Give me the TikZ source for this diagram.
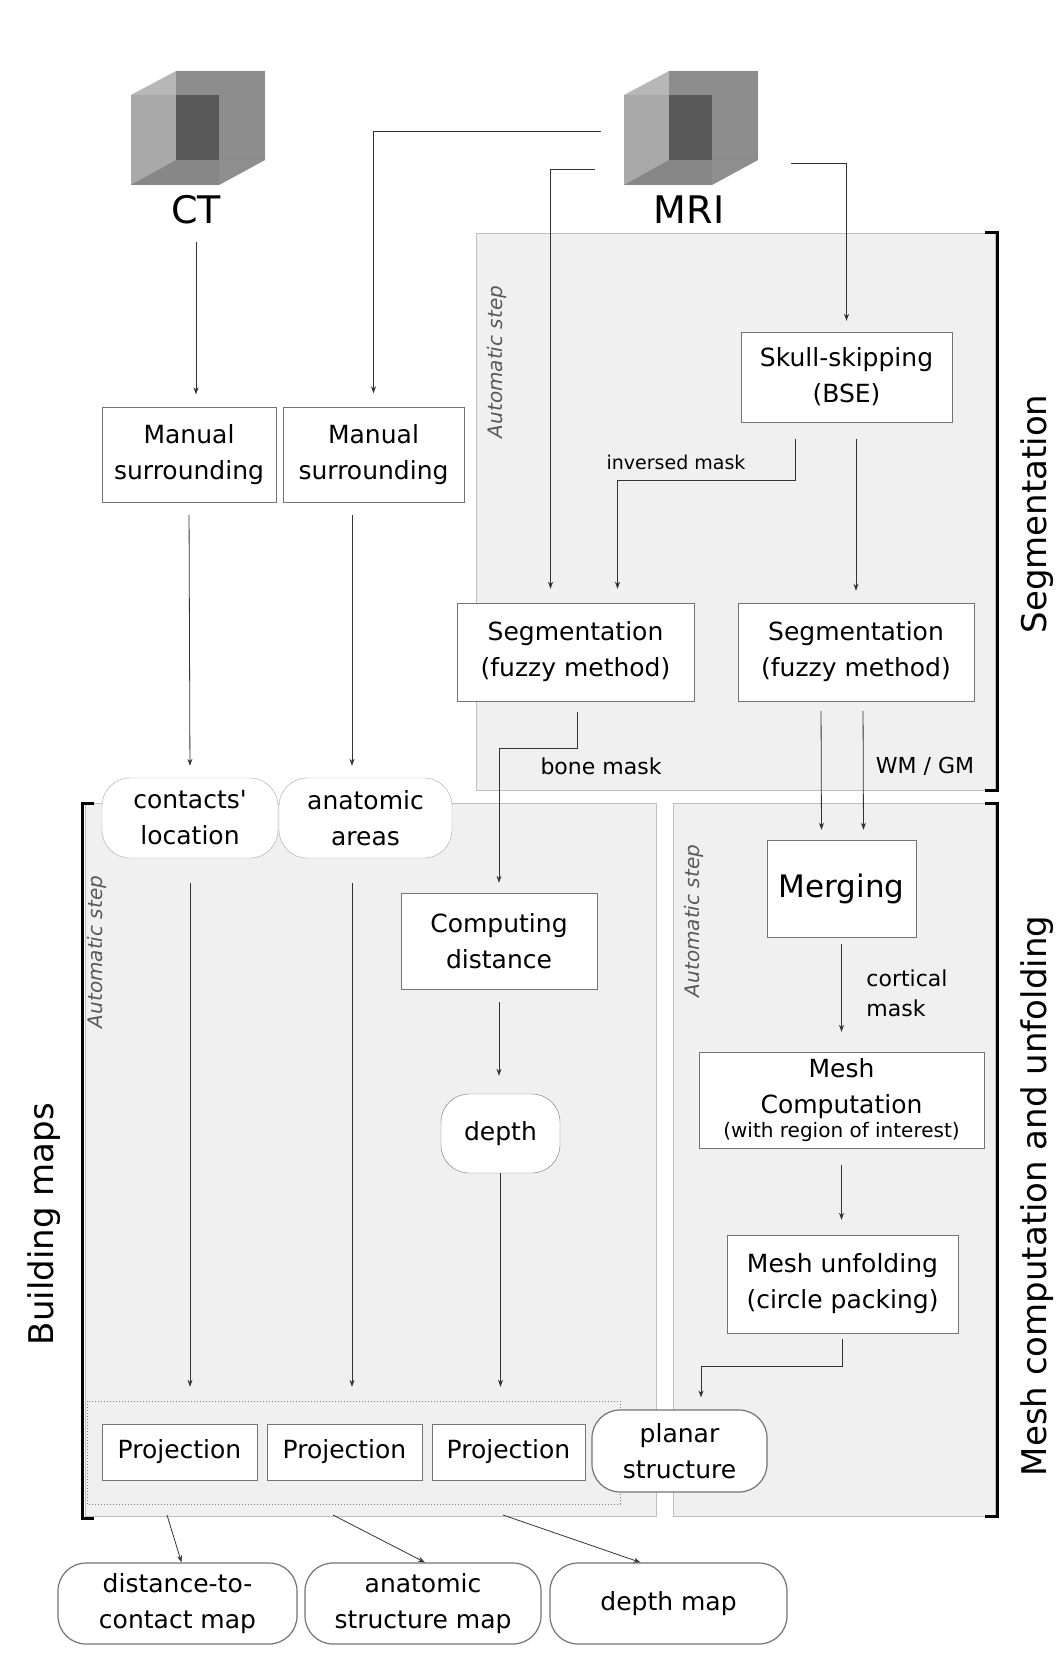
\documentclass[tikz,border=0pt]{standalone}
\usepackage{fontspec}
\setmainfont{DejaVu Sans}[Ligatures=TeXOff]
\usetikzlibrary{arrows.meta,calc}
\begin{document}
\begin{tikzpicture}[x=1pt,y=-1pt,
  box/.style={draw=black!55,fill=white,align=center,inner sep=0pt,font=\fontsize{25}{36}\selectfont},
  rbox/.style={box,rounded corners=28pt},
  rgbox/.style={rbox,draw=black!35},
  arr/.style={-{Stealth[length=7pt,width=5pt]},black!80,line width=0.8pt},
  region/.style={fill=black!6,draw=black!25,line width=0.8pt},
  auto/.style={rotate=90,text=black!65,font=\fontsize{20}{24}\selectfont\itshape},
  lab/.style={font=\fontsize{22}{30}\selectfont,align=left,inner sep=0pt},
  side/.style={rotate=90,font=\fontsize{34}{40}\selectfont},
  brk/.style={line width=3pt}]
\useasboundingbox (0,0) rectangle (1064,1661);
% regions
\path[region] (476,233) rectangle (995,790);
\path[region] (85,803) rectangle (656,1516);
\path[region] (673,803) rectangle (995,1516);
\draw[brk] (985,233) -- (997,233) -- (997,790) -- (985,790);
\draw[brk] (985,803) -- (997,803) -- (997,1516) -- (985,1516);
\draw[brk] (94,803) -- (82,803) -- (82,1518) -- (94,1518);
\node[auto] at (497,362) {Automatic step};
\node[auto] at (97,952) {Automatic step};
\node[auto] at (694,921) {Automatic step};
\node[side] at (1037,514) {Segmentation};
\node[side] at (1037,1196) {Mesh computation and unfolding};
\node[side] at (44,1224) {Building maps};
% cubes
\foreach \cx/\nm in {131/ctcube,624/mricube}{
  \begin{scope}[shift={(\cx,71)}]
    \fill[black!55] (45,0) rectangle (134,89);
    \fill[black!40,opacity=0.7] (0,24) -- (45,0) -- (134,0) -- (88,24) -- cycle;
    \fill[black!40,opacity=0.7] (88,24) -- (134,0) -- (134,89) -- (88,114) -- cycle;
    \fill[black!45,opacity=0.75] (0,24) rectangle (88,114);
    \fill[black!60,opacity=0.5] (0,114) -- (45,89) -- (134,89) -- (88,114) -- cycle;
    \fill[black!65] (45,24) rectangle (88,89);
    \coordinate (\nm) at (67,57);
  \end{scope}}
\node[font=\fontsize{38}{40}\selectfont] (ct) at (196,210) {CT};
\node[font=\fontsize{38}{40}\selectfont] (mri) at (689,210) {MRI};
% nodes
\node[box,minimum width=174pt,minimum height=95pt] (man1) at (189,455) {Manual\\surrounding};
\node[box,minimum width=181pt,minimum height=95pt] (man2) at (373.5,455) {Manual\\surrounding};
\node[box,minimum width=211pt,minimum height=90pt] (skull) at (846.5,377) {Skull-skipping\\(BSE)};
\node[box,minimum width=237pt,minimum height=98pt] (seg1) at (575.5,652) {Segmentation\\(fuzzy method)};
\node[box,minimum width=236pt,minimum height=98pt] (seg2) at (856,652) {Segmentation\\(fuzzy method)};
\node[rgbox,minimum width=176pt,minimum height=80pt] (cont) at (190,818) {contacts'\\location};
\node[rgbox,minimum width=173pt,minimum height=80pt] (areas) at (365.5,818) {anatomic\\areas};
\node[box,minimum width=196pt,minimum height=96pt] (comp) at (499,941) {Computing\\distance};
\node[rbox,minimum width=119pt,minimum height=79pt] (depth) at (500.5,1133.5) {depth};
\node[box,minimum width=149pt,minimum height=97pt,font=\fontsize{31}{36}\selectfont] (merge) at (841.5,888.5) {Merging};
\node[box,minimum width=285pt,minimum height=96pt] (meshc) at (841.5,1100) {Mesh\\Computation\\[-12pt]{\fontsize{20}{24}\selectfont (with region of interest)}};
\node[box,minimum width=231pt,minimum height=98pt] (unf) at (842.5,1284) {Mesh unfolding\\(circle packing)};
\draw[black!50,dotted,line width=1pt] (87,1401) rectangle (620,1504);
\node[box,minimum width=155pt,minimum height=56pt] (p1) at (179.5,1452) {Projection};
\node[box,minimum width=155pt,minimum height=56pt] (p2) at (344.5,1452) {Projection};
\node[box,minimum width=153pt,minimum height=56pt] (p3) at (508.5,1452) {Projection};
\node[rbox,minimum width=175pt,minimum height=82pt,line width=1.2pt] (planar) at (679.5,1451) {planar\\structure};
\node[rbox,minimum width=239pt,minimum height=81pt,line width=1.2pt] (b1) at (177.5,1603.5) {distance-to-\\contact map};
\node[rbox,minimum width=236pt,minimum height=81pt,line width=1.2pt] (b2) at (423,1603.5) {anatomic\\structure map};
\node[rbox,minimum width=237pt,minimum height=81pt,line width=1.2pt] (b3) at (668.5,1603.5) {depth map};
% connectors
\coordinate (m1) at (601,131);
\coordinate (m2) at (595,169);
\coordinate (m3) at (791,163);
\draw[arr,shorten <=14pt,shorten >=13pt] (ct.south) -- (ct.south |- man1.north);
\draw[arr,shorten >=14pt] (m1) -| (man2.north);
\draw[arr,shorten >=14pt] (m2) -| ([xshift=-25pt]seg1.north);
\draw[arr,shorten >=11pt] (m3) -| (skull.north);
\draw[arr,shorten <=17pt,shorten >=12pt] (skull.south -| seg2.north) -- (seg2.north);
\coordinate (inv) at ([xshift=55pt,yshift=-17pt]skull.south west);
\draw[arr,shorten >=14pt] (inv) -- ++(0,41) -| ([xshift=42pt]seg1.north);
\node[lab,font=\fontsize{19}{22}\selectfont] at (676,462) {inversed mask};
\coordinate (bm) at ([xshift=1.5pt,yshift=-11pt]seg1.south);
\draw[arr,shorten >=10pt] (bm) -- ++(0,36) -| (comp.north);
\node[lab] at (601,766) {bone mask};
\draw[arr,shorten <=10pt,shorten >=10pt] ([xshift=-35pt]seg2.south) -- ([xshift=-20pt]merge.north);
\draw[arr,shorten <=10pt,shorten >=10pt] ([xshift=7pt]seg2.south) -- ([xshift=22pt]merge.north);
\node[lab] at (925,766) {WM / GM};
\draw[arr,shorten <=12pt,shorten >=12pt] (man1.south) -- (cont.north);
\draw[arr,shorten <=12pt,shorten >=12pt] ([xshift=-21.5pt]man2.south) -- ([xshift=-13.5pt]areas.north);
\draw[arr,shorten <=25pt,shorten >=37pt] (cont.south) -- (p1.north -| cont.south);
\draw[arr,shorten <=25pt,shorten >=37pt] ([xshift=-13.5pt]areas.south) -- ([xshift=-13.5pt]areas.south |- p2.north);
\draw[arr,shorten <=13pt,shorten >=18pt] (comp.south) -- (comp.south |- depth.north);
\draw[arr,shorten >=37pt] (depth.south) -- (depth.south |- p3.north);
\draw[arr,shorten <=7pt,shorten >=20pt] (merge.south) -- (merge.south |- meshc.north);
\node[lab,align=left] at (907,993) {cortical\\mask};
\draw[arr,shorten <=17pt,shorten >=15pt] (meshc.south) -- (meshc.south |- unf.north);
\coordinate (uf) at ([yshift=-6pt]unf.south);
\draw[arr,shorten >=12pt] (uf) -- ++(0,27) -| ([xshift=21.5pt]planar.north);
\draw[arr] (167,1515) -- ([xshift=4pt]b1.north);
\draw[arr] (333,1515) -- ([xshift=2pt]b2.north);
\draw[arr] (503,1515) -- ([xshift=-28pt]b3.north);
\end{tikzpicture}
\end{document}
